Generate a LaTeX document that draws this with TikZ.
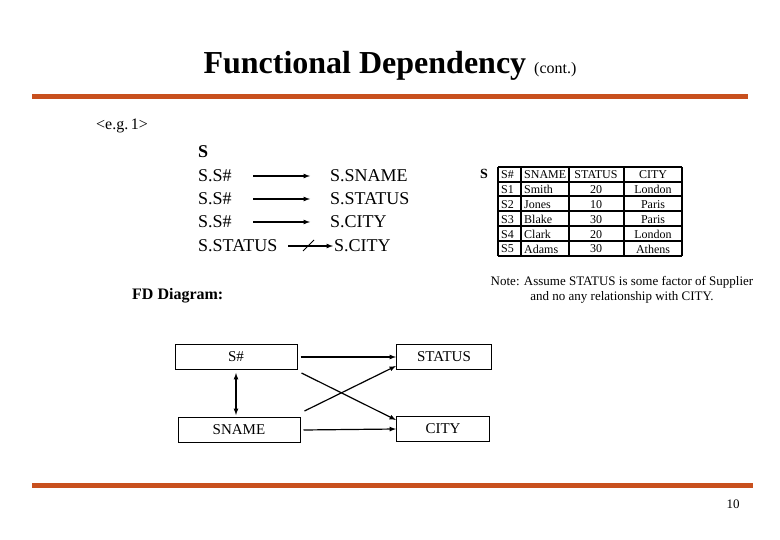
\documentclass[tikz,border=0pt]{standalone}
\usepackage{fontspec}
\setmainfont{Liberation Serif}
\begin{document}
\begin{tikzpicture}[x=1pt,y=-1pt,
 bar/.style={fill={rgb,255:red,200;green,80;blue,30},draw=none},
 txt/.style={anchor=west,inner sep=0pt,font=\fontsize{18}{18}\selectfont},
 bx/.style={draw,line width=1pt,minimum width=122pt,minimum height=25pt,inner sep=0pt,font=\fontsize{15}{15}\selectfont},
 ar/.style={-latex,line width=1.2pt},
 tb/.style={inner sep=0pt,font=\fontsize{12}{12}\selectfont}]
\useasboundingbox (0,0) rectangle (780,540);
\node[inner sep=0pt] (title) at (390,66) {\fontsize{32}{32}\selectfont\bfseries Functional Dependency \fontsize{16}{16}\mdseries\selectfont (cont.)};
\fill[bar] (32,94) rectangle (748,99);
\fill[bar] (32,483) rectangle (753,488);
\node[txt,font=\fontsize{16}{16}\selectfont] (eg) at (96,126) {<e.g.\,1>};
\node[txt,font=\fontsize{18}{18}\selectfont\bfseries] (s0) at (198,152) {S};
\node[txt] (a1) at (198,176) {S.S\#};
\node[txt] (a2) at (198,199) {S.S\#};
\node[txt] (a3) at (198,222) {S.S\#};
\node[txt] (a4) at (198,246) {S.STATUS};
\node[txt] (b1) at (330,176) {S.SNAME};
\node[txt] (b2) at (330,199) {S.STATUS};
\node[txt] (b3) at (330,222) {S.CITY};
\node[txt] (b4) at (334,246) {S.CITY};
\coordinate (p1) at (253,176); \coordinate (q1) at (310,176);
\coordinate (p2) at (253,199); \coordinate (q2) at (310,199);
\coordinate (p3) at (253,222); \coordinate (q3) at (310,222);
\coordinate (p4) at (288,246); \coordinate (q4) at (333,246);
\draw[ar] (p1)--(q1); \draw[ar] (p2)--(q2); \draw[ar] (p3)--(q3);
\draw[ar] (p4)--(q4);
\coordinate (n1) at (303,251); \coordinate (n2) at (314,240);
\draw[line width=1pt] (n1)--(n2);
\node[txt,font=\fontsize{14}{14}\selectfont\bfseries] (sl) at (480,174) {S};
% table
\foreach \y in {167,182,196,211,226,241,256} \draw[line width=1.5pt] (498,\y)--(682,\y);
\foreach \x in {498,521,569,624,682} \draw[line width=1.5pt] (\x,167)--(\x,256);
\foreach \r/\a/\b/\c/\d [count=\i] in {0/S\#/SNAME/STATUS/CITY,1/S1/Smith/20/London,2/S2/Jones/10/Paris,3/S3/Blake/30/Paris,4/S4/Clark/20/London,5/S5/Adams/30/Athens}{
 \pgfmathsetmacro\yy{167+14.8*(\i-1)+8}
 \node[tb,anchor=west] at (501,\yy) {\a};
 \node[tb,anchor=west] at (524,\yy) {\b};
 \node[tb] at (596,\yy) {\c};
 \node[tb] at (653,\yy) {\d};
}
\node[inner sep=0pt,align=center,font=\fontsize{13}{15}\selectfont] (note) at (622,290) {Note: Assume STATUS is some factor of Supplier\\and no any relationship with CITY.};
\node[txt,font=\fontsize{16}{16}\selectfont\bfseries] (fd) at (132,296) {FD Diagram:};
\node[bx] (sh) at (236,357) {S\#};
\node[bx] (sn) at (239,430) {SNAME};
\node[bx,minimum width=95pt] (st) at (444,357) {STATUS};
\node[bx,minimum width=93pt] (ci) at (443,429) {CITY};
\draw[ar] (sh.east)++(3,0) coordinate (e1) (e1) -- (st.west);
\draw[ar] ([xshift=4pt,yshift=-3pt]sh.south east) -- ([yshift=-4pt]ci.north west);
\draw[ar] ([xshift=4pt,yshift=6pt]sn.north east) -- ([yshift=4pt]st.south west);
\draw[ar] ([xshift=3pt]sn.east) -- (ci.west);
\draw[latex-latex,line width=1.2pt] ([yshift=-3pt]sh.south) -- ([yshift=2pt,xshift=-3pt]sn.north);
\node[inner sep=0pt,font=\fontsize{13}{13}\selectfont] (pg) at (733,504) {10};
\end{tikzpicture}
\end{document}
